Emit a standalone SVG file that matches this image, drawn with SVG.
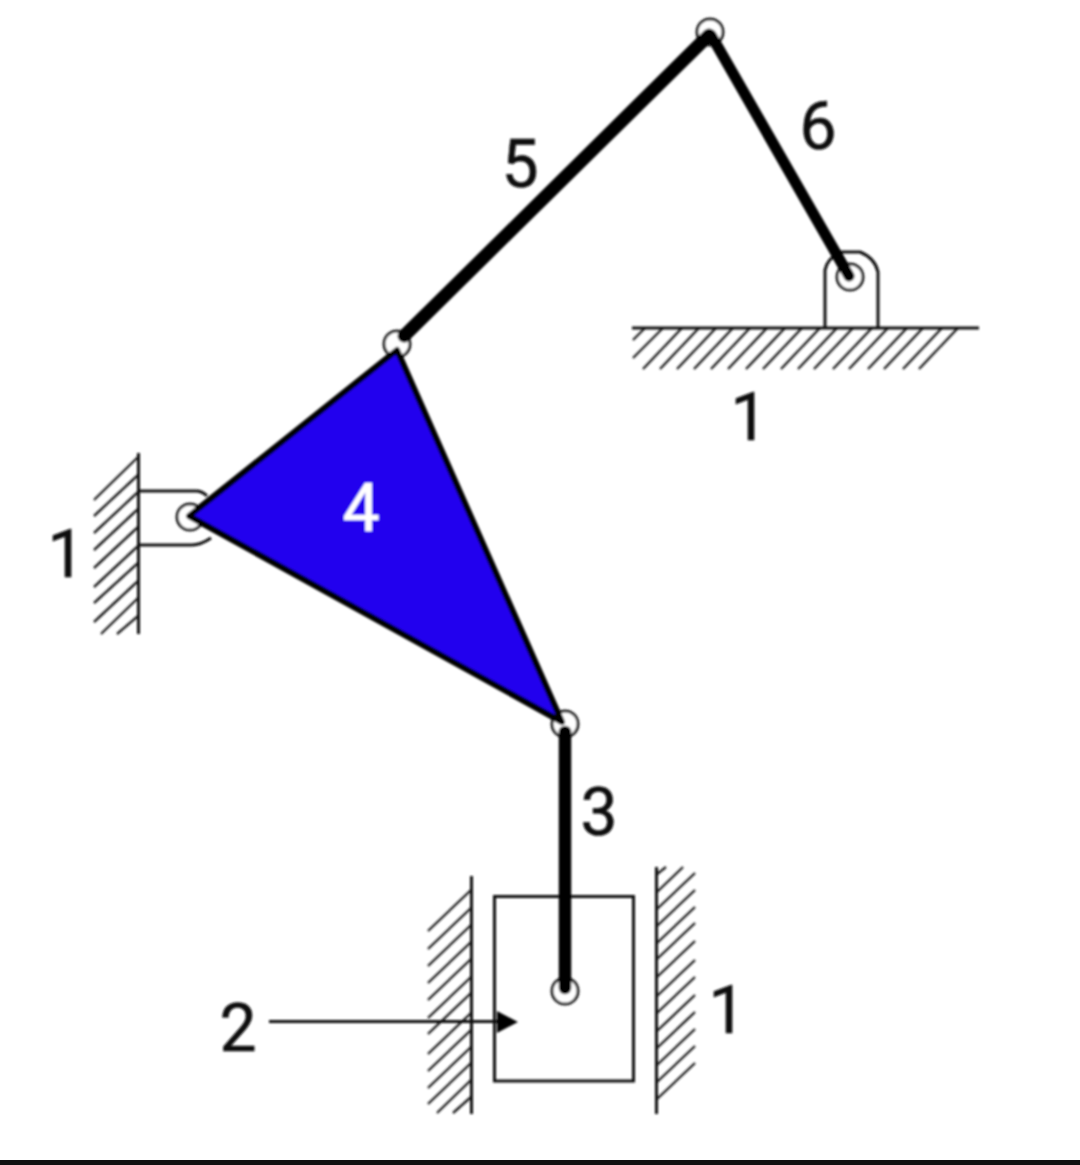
<svg xmlns="http://www.w3.org/2000/svg" width="1080" height="1165" viewBox="0 0 1080 1165">
<style>
.line{fill:none;stroke:#111;stroke-width:3}
.hatch{fill:none;stroke:#222;stroke-width:2.400}
.pin{fill:#fff;stroke:#222;stroke-width:3}
.link{fill:none;stroke:#000;stroke-linecap:round}
text{font-family:Roboto,"Liberation Sans",Arial,sans-serif;font-size:66px;fill:#111;text-anchor:middle;stroke:#111;stroke-width:0.600}
</style>
<defs><filter id="soft" filterUnits="userSpaceOnUse" x="0" y="0" width="1080" height="1165"><feGaussianBlur stdDeviation="0.8"/></filter></defs>
<rect width="1080" height="1165" fill="#fff"/>
<g filter="url(#soft)">
<g id="ground-top">
<path class="hatch" d="M645 328L633 340M663 328L633 358M682 328L643 369M699 328L660 369M716 328L677 369M733 328L694 369M750 328L711 369M767 328L728 369M785 328L746 369M802 328L763 369M820 328L781 369M837 328L798 369M853 328L814 369M872 328L833 369M888 328L849 369M907 328L868 369M923 328L884 369M942 328L903 369M958 328L919 369"/>
<path class="line" d="M632 328H979"/>
<path class="line" d="M825 328V270Q827 259 840 252H860Q875 258 878 272V328"/>
</g>
<g id="ground-left">
<path class="hatch" d="M138 457L94 500M138 475L94 516M138 492L94 533M138 509L94 550M138 527L94 568M138 546L94 587M138 563L94 603M138 581L94 622M138 598L101 634M138 616L117 634"/>
<path class="line" d="M138.500 453V634"/>
<path class="line" d="M138 491H196C200 491 204 493 207 496M138 545H192C198 545 205 542 211 538"/>
</g>
<g id="ground-slider-left">
<path class="hatch" d="M471 890L428 931M471 908L428 949M471 925L428 966M471 942L428 983M471 959L428 1000M471 977L428 1018M471 993L428 1034M471 1013L428 1054M471 1030L428 1071M471 1047L428 1088M471 1063L428 1104M471 1080L437 1113M471 1097L453 1113"/>
<path class="line" d="M471.500 876V1114"/>
</g>
<g id="ground-slider-right">
<path class="hatch" d="M666 867L656 875M683 867L656 893M695 873L656 910M695 890L656 927M695 907L656 944M695 923L656 960M695 941L656 978M695 960L656 997M695 977L656 1014M695 995L656 1032M695 1012L656 1049M695 1029L656 1066M695 1046L656 1083M695 1063L656 1100"/>
<path class="line" d="M656.500 867V1114"/>
</g>
<g id="slider-2"><rect class="line" x="494.500" y="896.500" width="139" height="184.500"/></g>
<g id="connectors">
<path class="line" d="M269 1021.500H500" stroke-width="2.500"/>
<path d="M497 1011L518 1022L497 1033Z" fill="#000"/>
</g>
<g id="pins">
<circle class="pin" cx="190" cy="517" r="13"/>
<circle class="pin" cx="397" cy="344" r="13"/>
<circle class="pin" cx="565" cy="724" r="13"/>
<circle class="pin" cx="710" cy="32" r="13"/>
<circle class="pin" cx="850" cy="277" r="13"/>
<circle class="pin" cx="565" cy="991" r="13"/>
</g>
<g id="link-4"><path d="M189 516L397 350L562 722Z" fill="#2200ee" stroke="#000" stroke-width="6" stroke-linejoin="round"/></g>
<g id="link-5"><path class="link" stroke-width="13" d="M404 336L709 35"/></g>
<g id="link-6"><path class="link" stroke-width="11" d="M711 35L849 276"/></g>
<g id="link-3"><path class="link" stroke-width="12.500" d="M565 732V988"/></g>
<g id="labels">
<text x="520" y="187">5</text>
<text x="818" y="149">6</text>
<text x="749" y="440">1</text>
<text x="361" y="531" style="fill:#fff;stroke:#fff">4</text>
<text x="66" y="577">1</text>
<text x="599" y="835">3</text>
<text x="238" y="1051">2</text>
<text x="727" y="1033">1</text>
</g>
</g>
<rect id="bottom-bar" x="0" y="1160" width="1080" height="5" fill="#111"/>
</svg>
